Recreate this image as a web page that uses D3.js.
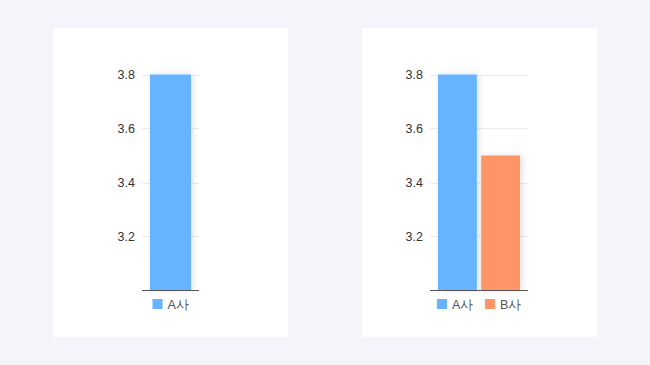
<!DOCTYPE html>
<html><head><meta charset="utf-8">
<script src="https://cdn.jsdelivr.net/npm/d3@7"></script>
<style>
html,body{margin:0;padding:0;background:#f4f5fb;}
svg{display:block;}
text{font-family:"Liberation Sans",Arial,sans-serif;}
</style></head><body>
<svg id="c" width="650" height="365"></svg>
<script>
const categories = ["A사"];
const seriesLeft = ["A사"];
const valuesLeft = [3.8];
const seriesRight = ["A사", "B사"];
const valuesRight = [3.8, 3.5];
const tickValues = [3.2, 3.4, 3.6, 3.8];
const colors = {"A사": "#66b3ff", "B사": "#ff9466"};

const svg = d3.select("#c");
const defs = svg.append("defs");
const f = defs.append("filter").attr("id","sh").attr("x","-30%").attr("y","-10%").attr("width","160%").attr("height","120%");
f.append("feDropShadow").attr("dx",2).attr("dy",0).attr("stdDeviation",3).attr("flood-color","#000").attr("flood-opacity",0.12);

function panel(px, axX0, axX1, series, values) {
  svg.append("rect").attr("x",px).attr("y",28).attr("width",235).attr("height",309).attr("fill","#fff");
  const y = d3.scaleLinear().domain([3.0,3.8]).range([290.5,74.5]);
  const x0 = d3.scaleBand().domain(categories).range([axX0,axX1]).paddingInner(0).paddingOuter(0);
  const x1 = d3.scaleBand().domain(series).range([8, x0.bandwidth()-8])
    .paddingInner(series.length > 1 ? 0.1 : 0).paddingOuter(0);
  const g = svg.append("g");
  g.selectAll("line.grid").data(tickValues).join("line")
    .attr("x1",axX0).attr("x2",axX1).attr("y1",d=>Math.round(y(d))+0.5).attr("y2",d=>Math.round(y(d))+0.5)
    .attr("stroke","#ececec").attr("stroke-width",1);
  g.selectAll("text.tick").data(tickValues).join("text")
    .attr("x",axX0-7).attr("y",d=>y(d)).attr("dy","0.35em").attr("text-anchor","end")
    .attr("font-size",12.5).attr("fill","#333").text(d=>d.toFixed(1));
  const data = series.map((s,i)=>({s, v: values[i], c: categories[0]}));
  g.selectAll("rect.bar").data(data).join("rect")
    .attr("x",d=>x0(d.c)+x1(d.s)).attr("width",x1.bandwidth())
    .attr("y",d=>y(d.v)).attr("height",d=>y(3.0)-y(d.v))
    .attr("fill",d=>colors[d.s]).attr("filter","url(#sh)");
  g.append("line").attr("x1",axX0).attr("x2",axX1).attr("y1",290.5).attr("y2",290.5).attr("stroke","#555").attr("stroke-width",1);
  const itemW = 48;
  const totalW = series.length*itemW - 12;
  const lx = (axX0+axX1)/2 - totalW/2;
  const li = g.selectAll("g.leg").data(series).join("g").attr("transform",(d,i)=>`translate(${lx+i*itemW},299)`);
  li.append("rect").attr("width",10).attr("height",10).attr("fill",d=>colors[d]);
  li.append("text").attr("x",15).attr("y",5).attr("dy","0.38em").attr("font-size",12.5).attr("fill","#555").text(d=>d);
}
panel(53, 142, 199, seriesLeft, valuesLeft);
panel(362, 430, 528, seriesRight, valuesRight);
</script>
</body></html>
